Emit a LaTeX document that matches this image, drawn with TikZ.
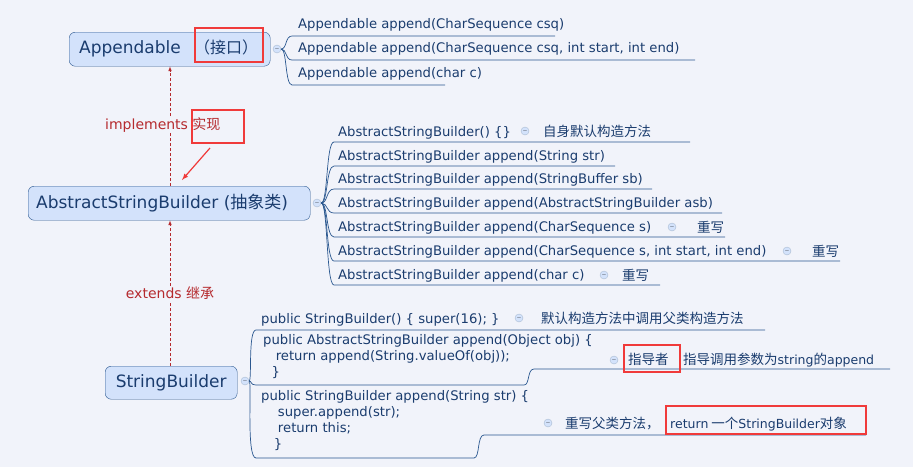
\documentclass[tikz,border=0pt]{standalone}
\usepackage{fontspec}
\setmainfont{DejaVu Sans}
\newfontfamily\cjk{Noto Sans CJK SC}
\usetikzlibrary{calc}
\definecolor{bg}{HTML}{F1F3FA}
\definecolor{ink}{HTML}{1A3C6E}
\definecolor{boxfill}{HTML}{D3E2FB}
\definecolor{boxline}{HTML}{2A578F}
\definecolor{relred}{HTML}{B52A2E}
\definecolor{markred}{HTML}{F03A3A}
\tikzset{
  topic/.style={draw=boxline, fill=boxfill, rounded corners=6pt, text=ink, inner sep=0pt},
  topictext/.style={text=ink, font=\fontsize{17}{19}\selectfont},
  leaf/.style={anchor=base west, text=ink, font=\fontsize{13.2}{16}\selectfont, inner sep=0pt, align=left},
  note/.style={anchor=base west, text=ink, font=\fontsize{13.5}{15}\cjk, inner sep=0pt},
  fold/.style={draw=boxline!40, fill=boxfill, circle, minimum size=8pt, inner sep=0pt, font=\tiny},
  branch/.style={draw=boxline, line width=0.7pt},
  hl/.style={draw=markred, line width=1.6pt},
  rel/.style={draw=relred, densely dashed, line width=0.6pt, -latex},
  rellabel/.style={fill=bg, text=relred, font=\fontsize{14}{16}\selectfont, inner sep=1pt}
}
\begin{document}
\begin{tikzpicture}[x=1pt,y=-1pt]
\fill[bg] (0,0) rectangle (913,467);
\useasboundingbox (0,0) rectangle (913,467);

%%% Appendable
\node[topic, minimum width=201, minimum height=34, anchor=north west] (app) at (69,32) {};
\node[topictext, anchor=west, inner sep=0pt] at (79,49) {Appendable};
\node[text=ink, font=\fontsize{16}{18}\cjk, anchor=west, inner sep=0pt] at (194,47) {（接口）};
\draw[hl] (195,28) rectangle (263,62);
\node[fold] (appf) at (277,49) {$-$};
\foreach \y/\t/\e in {23/{Appendable append(CharSequence csq)}/555,
                      47/{Appendable append(CharSequence csq, int start, int end)}/695,
                      72/{Appendable append(char c)}/445}{
  \node[leaf] at (298,\y+5) {\t};
  \draw[branch] (appf.east) .. controls (287,49) and (285,\y+13) .. (292,\y+13) -- (\e,\y+13);
}

%%% AbstractStringBuilder
\node[topic, minimum width=282, minimum height=34, anchor=north west] (asb) at (28,186) {};
\node[topictext, anchor=west, inner sep=0pt] at (36,203) {AbstractStringBuilder ({\cjk 抽象类})};
\node[fold] (asbf) at (317,203) {$-$};
\foreach \y/\t/\e in {131/{AbstractStringBuilder() \{\}}/690,
                      155/{AbstractStringBuilder append(String str)}/615,
                      178/{AbstractStringBuilder append(StringBuffer sb)}/652,
                      202/{AbstractStringBuilder append(AbstractStringBuilder asb)}/722,
                      226/{AbstractStringBuilder append(CharSequence s)}/725,
                      250/{AbstractStringBuilder append(CharSequence s, int start, int end)}/840,
                      274/{AbstractStringBuilder append(char c)}/660}{
  \node[leaf] at (338,\y+5) {\t};
  \draw[branch] (asbf.east) .. controls (328,203) and (326,\y+11) .. (334,\y+11) -- (\e,\y+11);
}
\node[fold] at (525,131) {$-$};
\node[note] at (543,136) {自身默认构造方法};
\node[fold] at (672,227) {$-$};
\node[note] at (697,232) {重写};
\node[fold] at (787,251) {$-$};
\node[note] at (812,256) {重写};
\node[fold] at (604,275) {$-$};
\node[note] at (622,280) {重写};

%%% StringBuilder
\node[topic, minimum width=132, minimum height=33, anchor=north west] (sb) at (105,366) {};
\node[topictext] at (sb.center) {StringBuilder};
\node[fold] (sbf) at (245,381) {$-$};
\node[leaf] at (261,323) {public StringBuilder() \{ super(16); \}};
\draw[branch] (sbf.east) .. controls (252,381) and (248,330) .. (256,330) -- (765,330);
\node[fold] at (519,318) {$-$};
\node[note] at (541,323) {默认构造方法中调用父类构造方法};

\node[leaf, anchor=north west] at (263,334)
  {public AbstractStringBuilder append(Object obj) \{\\
   \ \ \ return append(String.valueOf(obj));\\
   \ \ \}};
\draw[branch] (sbf.east) .. controls (252,381) and (250,385) .. (256,385) -- (524,385)
  .. controls (530,385) and (527,369) .. (534,369) -- (890,369);
\node[fold] at (614,360) {$-$};
\node[note] at (628,364) {指导者};
\node[note] at (683,364) {指导调用参数为{\fontspec{DejaVu Sans}\fontsize{12.5}{15}\selectfont string}的{\fontspec{DejaVu Sans}\fontsize{12.5}{15}\selectfont append}};
\draw[hl] (624,345) rectangle (680,372);

\node[leaf, anchor=north west] at (261,390)
  {public StringBuilder append(String str) \{\\
   \ \ \ \ super.append(str);\\
   \ \ \ \ return this;\\
   \ \ \ \}};
\draw[branch] (sbf.east) .. controls (252,381) and (246,458) .. (256,458) -- (474,458)
  .. controls (480,458) and (477,435) .. (484,435) -- (866,435);
\node[fold] at (548,423) {$-$};
\node[note] at (565,428) {重写父类方法，};
\node[note] at (670,428) {{\fontspec{DejaVu Sans}\fontsize{12.5}{15}\selectfont return} 一个{\fontspec{DejaVu Sans}\fontsize{12.5}{15}\selectfont StringBuilder}对象};
\draw[hl] (666,406) rectangle (866,434);

%%% relations
\draw[rel] (asb.north -| 170,0) -- (app.south -| 170,0);
\node[rellabel, anchor=west] (impl) at (104,125) {implements {\cjk 实现}};
\draw[hl] (192,110) rectangle (244,143);
\draw[markred, line width=1.2pt, -latex] (210,148) -- (182,180);
\draw[rel] (sb.north -| 170,0) -- (asb.south -| 170,0)
  node[rellabel, pos=0.5] (ext) {extends {\cjk 继承}};
\end{tikzpicture}
\end{document}
